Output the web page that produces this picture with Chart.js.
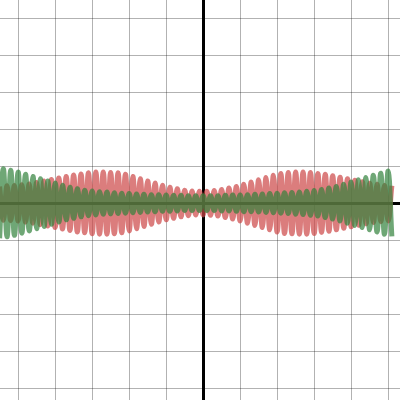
<!DOCTYPE html>
<html lang="en">
  <head>
    <meta charset="UTF-8" />
    <title>Oscillations</title>
    <style>
      html, body { margin: 0; padding: 0; background: #fff; }
      #wrap { width: 400px; height: 400px; }
    </style>
  </head>
  <body>
    <div id="wrap"><canvas id="plot"></canvas></div>
    <script src="https://cdn.jsdelivr.net/npm/chart.js"></script>
    <script>
      // peak amplitudes, one per half-wave, x from -5.5 step 0.1
      const peakStart = -5.5;
      const peakStep = 0.1;
      const redPeaks = [
        0.45, 0.46, 0.47, 0.47, 0.48, 0.48, 0.5, 0.51, 0.52, 0.54,
        0.56, 0.58, 0.6, 0.62, 0.64, 0.66, 0.68, 0.7, 0.72, 0.74,
        0.76, 0.78, 0.79, 0.8, 0.82, 0.83, 0.84, 0.84, 0.84, 0.84,
        0.83, 0.83, 0.82, 0.8, 0.78, 0.75, 0.72, 0.69, 0.66, 0.63,
        0.6, 0.57, 0.54, 0.51, 0.48, 0.45, 0.43, 0.41, 0.39, 0.37,
        0.35, 0.34, 0.33, 0.32, 0.32, 0.32,
        0.32, 0.33, 0.34, 0.35, 0.37, 0.39, 0.41, 0.43, 0.45, 0.48,
        0.51, 0.54, 0.57, 0.6, 0.63, 0.66, 0.69, 0.72, 0.75, 0.78,
        0.8, 0.82, 0.83, 0.83, 0.84, 0.84, 0.84, 0.84, 0.83, 0.82,
        0.8, 0.79, 0.78, 0.76, 0.74, 0.72, 0.7, 0.68, 0.66, 0.64,
        0.62, 0.6, 0.58, 0.56, 0.54, 0.52, 0.51, 0.5, 0.48, 0.48,
        0.47
      ];
      const greenPeaks = [
        0.95, 0.93, 0.91, 0.89, 0.87, 0.84, 0.81, 0.78, 0.75, 0.72,
        0.69, 0.66, 0.63, 0.6, 0.57, 0.54, 0.51, 0.48, 0.45, 0.43,
        0.41, 0.39, 0.37, 0.35, 0.34, 0.33, 0.32, 0.31, 0.3, 0.3,
        0.29, 0.28, 0.28, 0.27, 0.27, 0.26, 0.26, 0.25, 0.25, 0.24,
        0.24, 0.23, 0.23, 0.23, 0.22, 0.22, 0.22, 0.21, 0.21, 0.21,
        0.2, 0.2, 0.2, 0.2, 0.2, 0.2,
        0.2, 0.2, 0.2, 0.2, 0.21, 0.21, 0.21, 0.22, 0.22, 0.22,
        0.23, 0.23, 0.23, 0.24, 0.24, 0.25, 0.25, 0.26, 0.26, 0.27,
        0.27, 0.28, 0.28, 0.29, 0.3, 0.3, 0.31, 0.32, 0.33, 0.34,
        0.35, 0.37, 0.39, 0.41, 0.43, 0.45, 0.48, 0.51, 0.54, 0.57,
        0.6, 0.63, 0.66, 0.69, 0.72, 0.75, 0.78, 0.81, 0.84, 0.87,
        0.9
      ];
      const xMin = -5.49, xMax = 5.32;
      const yMin = -5.32, yMax = 5.49;

      // alternate the sign of each peak so the half-waves go up and down
      const redPts = redPeaks.map((a, i) => ({ x: peakStart + i * peakStep, y: i % 2 ? -a : a }));
      const greenPts = greenPeaks.map((a, i) => ({ x: peakStart + i * peakStep, y: i % 2 ? a : -a }));

      const gridOpts = {
        color: (c) => (c.tick && c.tick.value === 0 ? "#000" : "rgba(0,0,0,0.3)"),
        lineWidth: (c) => (c.tick && c.tick.value === 0 ? 3 : 1),
        drawTicks: false,
      };
      const unitTicks = (s) => { s.ticks = [-5, -4, -3, -2, -1, 0, 1, 2, 3, 4, 5].map((v) => ({ value: v })); };

      new Chart(document.getElementById("plot"), {
        type: "line",
        data: {
          datasets: [
            {
              data: greenPts,
              borderColor: "rgba(50, 130, 60, 0.7)",
              borderWidth: 5,
              pointRadius: 0,
              tension: 0.45,
            },
            {
              data: redPts,
              borderColor: "rgba(204, 70, 70, 0.7)",
              borderWidth: 5,
              pointRadius: 0,
              tension: 0.45,
            },
          ],
        },
        options: {
          responsive: true,
          maintainAspectRatio: false,
          animation: false,
          layout: { padding: 0 },
          plugins: { legend: { display: false }, tooltip: { enabled: false } },
          scales: {
            x: {
              type: "linear",
              min: xMin,
              max: xMax,
              afterBuildTicks: unitTicks,
              ticks: { display: false },
              border: { display: false },
              grid: gridOpts,
            },
            y: {
              type: "linear",
              min: yMin,
              max: yMax,
              afterBuildTicks: unitTicks,
              ticks: { display: false },
              border: { display: false },
              grid: gridOpts,
            },
          },
        },
      });
    </script>
  </body>
</html>
